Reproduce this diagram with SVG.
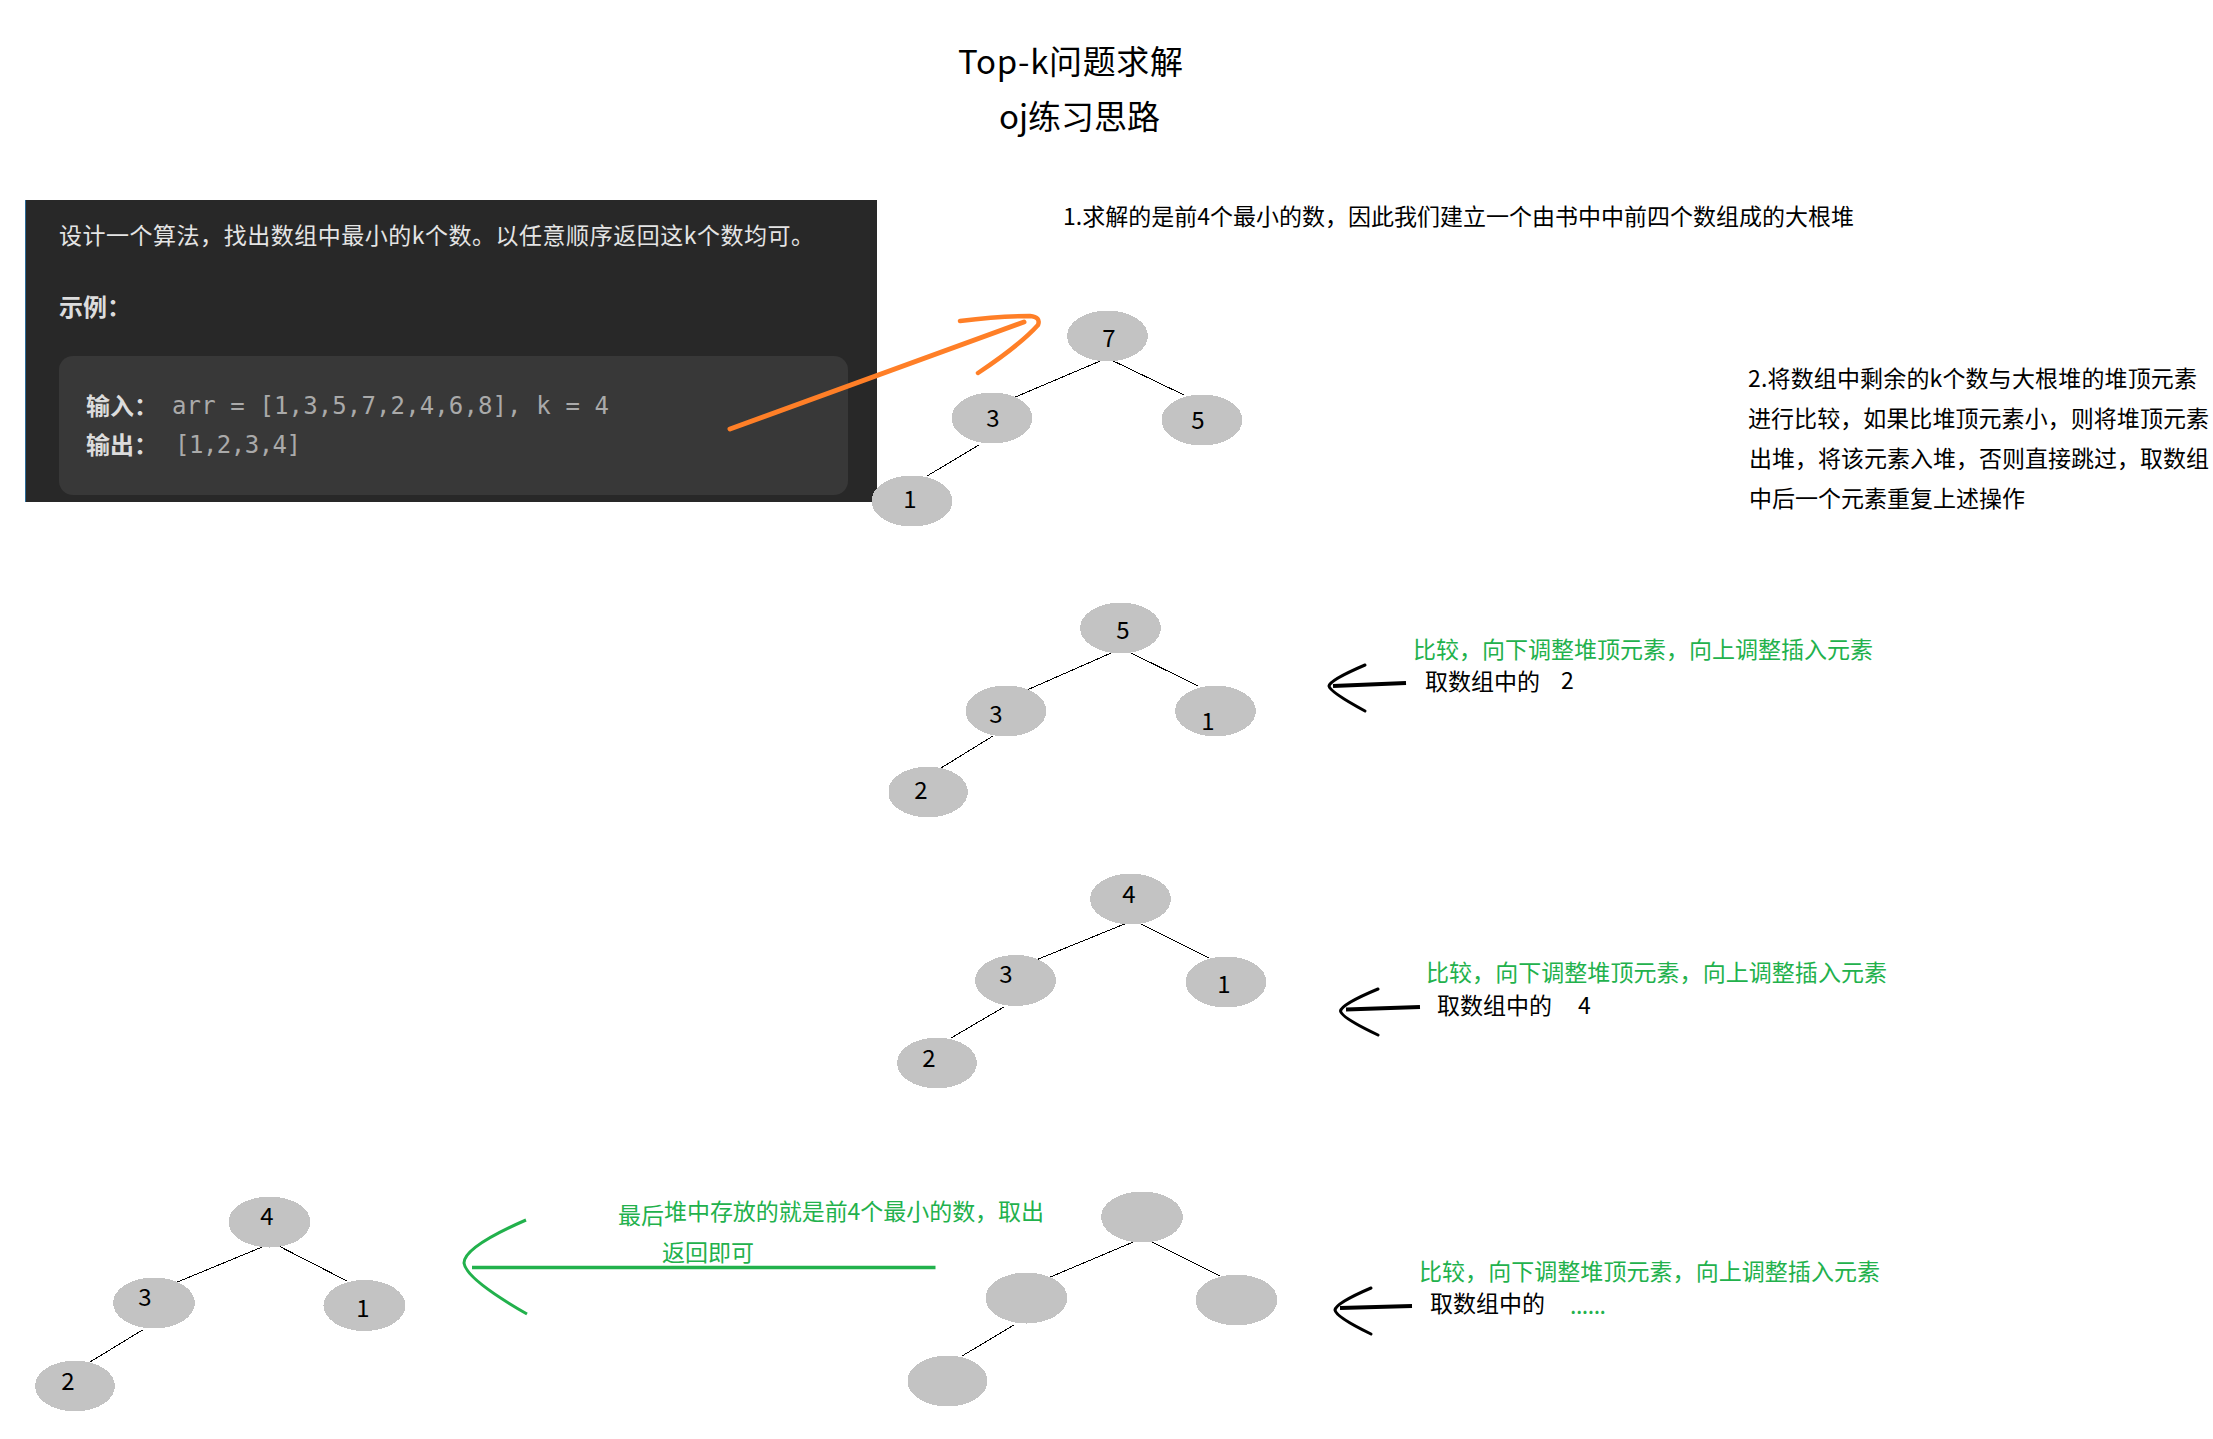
<svg xmlns="http://www.w3.org/2000/svg" width="2213" height="1439" viewBox="0 0 2213 1439">
<style>
text{font-family:"Noto Sans CJK SC","Noto Sans",sans-serif;font-size:23px;fill:#000}
.t{font-size:33px}
.g{fill:#22b14c}
.n{font-size:24px;text-anchor:middle;dominant-baseline:central}
.nd{fill:#c3c3c3;shape-rendering:crispEdges}
.e{stroke:#000;stroke-width:1;fill:none;shape-rendering:crispEdges}
.w{fill:#e4e4e4}
.b{fill:#dcdcdc;font-weight:700;font-size:24px}
.m{font-family:"DejaVu Sans Mono","Liberation Mono",monospace;font-size:24px;fill:#aaa}
.ab{stroke:#000;stroke-width:3;fill:none;stroke-linecap:round}
.as{stroke:#000;stroke-width:4;fill:none}
.ag{stroke:#22b14c;fill:none}
.ao{stroke:#ff7f27;fill:none;stroke-linecap:round}
</style>
<defs>
<clipPath id="c1"><rect x="889" y="760" width="100" height="70"/></clipPath>
<clipPath id="c2"><rect x="897" y="1030" width="100" height="70"/></clipPath>
<clipPath id="c3"><rect x="35" y="1350" width="100" height="75"/></clipPath>
<clipPath id="c4"><rect x="908" y="1350" width="100" height="75"/></clipPath>
</defs>
<rect width="2213" height="1439" fill="#fff"/>

<g id="title">
<text class="t" x="958" y="74" textLength="225">Top-k问题求解</text>
<text class="t" x="999" y="129" textLength="161">oj练习思路</text>
</g>

<g id="problem-panel">
<rect x="25" y="200" width="852" height="302" fill="#282828"/>
<rect x="25" y="200" width="1" height="302" fill="#2a6a96"/>
<rect x="59" y="356" width="789" height="139" rx="14" fill="#383838"/>
<text class="w" x="59" y="244" textLength="755">设计一个算法，找出数组中最小的k个数。以任意顺序返回这k个数均可。</text>
<text class="b" x="59" y="316">示例：</text>
<text class="b" x="86" y="415">输入：</text>
<text class="m" x="172" y="414" textLength="437">arr = [1,3,5,7,2,4,6,8], k = 4</text>
<text class="b" x="86" y="454">输出：</text>
<text class="m" x="175" y="453" textLength="126">[1,2,3,4]</text>
</g>

<g id="connectors">
<path class="e" d="M1105 359L1013 398M1105 357L1184 395M979 445L927 476"/>
<path class="e" d="M1118 650L1027 690M1119 647L1198 686M993 736L941 768"/>
<path class="e" d="M1127 923L1036 960M1129 918L1209 958M1004 1007L951 1038"/>
<path class="e" d="M267 1245L175 1283M269 1241L347 1281M142.500 1330L90 1362"/>
<path class="e" d="M1138 1240L1048 1278M1140 1236L1220 1276M1014 1325L962 1356"/>
<path class="ao" stroke-width="5" d="M730 429L1024 322"/>
<path class="ao" stroke-width="4.500" d="M960 321Q1000 316 1030 316Q1041 317 1038 325Q1020 345 978 373"/>
<path class="as" d="M1333 686L1406 683"/>
<path class="ab" d="M1365 665Q1330 680 1329 686Q1330 692 1365 711"/>
<path class="as" d="M1346 1009.500L1420 1007"/>
<path class="ab" d="M1378 989Q1342 1004 1340.500 1011Q1342 1018 1378 1035"/>
<path class="as" d="M1340 1308L1412 1306"/>
<path class="ab" d="M1371 1288Q1336 1303 1335 1310Q1336 1317 1371 1334"/>
<path class="ag" stroke-width="3.500" d="M472 1267.500L935.500 1267.500"/>
<path class="ag" stroke-width="3" d="M526 1220Q464 1247 464 1263Q466 1279 527 1314"/>
</g>

<g id="heap1-7"><ellipse class="nd" cx="1107.500" cy="336" rx="40.500" ry="25.500"/><text class="n" x="1109" y="336">7</text></g>
<g id="heap1-3"><ellipse class="nd" cx="992" cy="418" rx="40.500" ry="25.500"/><text class="n" x="993" y="416">3</text></g>
<g id="heap1-5"><ellipse class="nd" cx="1202" cy="420" rx="40.500" ry="25.500"/><text class="n" x="1198" y="418">5</text></g>
<g id="heap1-1"><ellipse class="nd" cx="912" cy="501" rx="40.500" ry="25.500"/><text class="n" x="910" y="497">1</text></g>

<g id="heap2-5"><ellipse class="nd" cx="1120.500" cy="628" rx="40.500" ry="25.500"/><text class="n" x="1123" y="628">5</text></g>
<g id="heap2-3"><ellipse class="nd" cx="1006" cy="711" rx="40.500" ry="25.500"/><text class="n" x="996" y="712">3</text></g>
<g id="heap2-1"><ellipse class="nd" cx="1215.500" cy="711" rx="40.500" ry="25.500"/><text class="n" x="1208" y="719">1</text></g>
<g id="heap2-2"><ellipse class="nd" cx="928" cy="792" rx="40" ry="25.500" clip-path="url(#c1)"/><text class="n" x="921" y="788">2</text></g>

<g id="heap3-4"><ellipse class="nd" cx="1130.500" cy="899" rx="40.500" ry="25.500"/><text class="n" x="1129" y="892">4</text></g>
<g id="heap3-3"><ellipse class="nd" cx="1015.500" cy="980.500" rx="40.500" ry="25.500"/><text class="n" x="1006" y="972">3</text></g>
<g id="heap3-1"><ellipse class="nd" cx="1226" cy="982" rx="40.500" ry="25.500"/><text class="n" x="1224" y="982">1</text></g>
<g id="heap3-2"><ellipse class="nd" cx="937" cy="1063" rx="40" ry="25.500" clip-path="url(#c2)"/><text class="n" x="929" y="1056">2</text></g>

<g id="result-4"><ellipse class="nd" cx="269.500" cy="1222" rx="41" ry="25.500"/><text class="n" x="267" y="1214">4</text></g>
<g id="result-3"><ellipse class="nd" cx="154" cy="1303" rx="41" ry="25.500"/><text class="n" x="145" y="1295">3</text></g>
<g id="result-1"><ellipse class="nd" cx="364.500" cy="1305.500" rx="41" ry="25.500"/><text class="n" x="363" y="1306">1</text></g>
<g id="result-2"><ellipse class="nd" cx="75" cy="1386" rx="40" ry="25.500" clip-path="url(#c3)"/><text class="n" x="68" y="1379">2</text></g>

<g id="blank-top"><ellipse class="nd" cx="1142" cy="1217" rx="41" ry="25.500"/></g>
<g id="blank-left"><ellipse class="nd" cx="1026.500" cy="1298" rx="41" ry="25.500"/></g>
<g id="blank-right"><ellipse class="nd" cx="1236.500" cy="1300" rx="41" ry="25.500"/></g>
<g id="blank-bottom"><ellipse class="nd" cx="947.500" cy="1381" rx="40" ry="25.500" clip-path="url(#c4)"/></g>

<g id="notes">
<text x="1063" y="225" textLength="791">1.求解的是前4个最小的数，因此我们建立一个由书中中前四个数组成的大根堆</text>
<text x="1748" y="387" textLength="449">2.将数组中剩余的k个数与大根堆的堆顶元素</text>
<text x="1748" y="427" textLength="461">进行比较，如果比堆顶元素小，则将堆顶元素</text>
<text x="1749" y="467" textLength="460">出堆，将该元素入堆，否则直接跳过，取数组</text>
<text x="1749" y="507" textLength="276">中后一个元素重复上述操作</text>
<text class="g" x="1413" y="658" textLength="460">比较，向下调整堆顶元素，向上调整插入元素</text>
<text x="1425" y="690" textLength="115">取数组中的</text>
<text x="1561" y="689">2</text>
<text class="g" x="1426" y="981" textLength="461">比较，向下调整堆顶元素，向上调整插入元素</text>
<text x="1437" y="1014" textLength="115">取数组中的</text>
<text x="1578" y="1014">4</text>
<text class="g" x="1419" y="1280" textLength="461">比较，向下调整堆顶元素，向上调整插入元素</text>
<text x="1430" y="1312" textLength="115">取数组中的</text>
<text class="g" x="1570" y="1314" textLength="36">......</text>
<text class="g" x="618" y="1224">最后</text>
<text class="g" x="664" y="1220" textLength="380">堆中存放的就是前4个最小的数，取出</text>
<text class="g" x="662" y="1261">返回即可</text>
</g>
</svg>
